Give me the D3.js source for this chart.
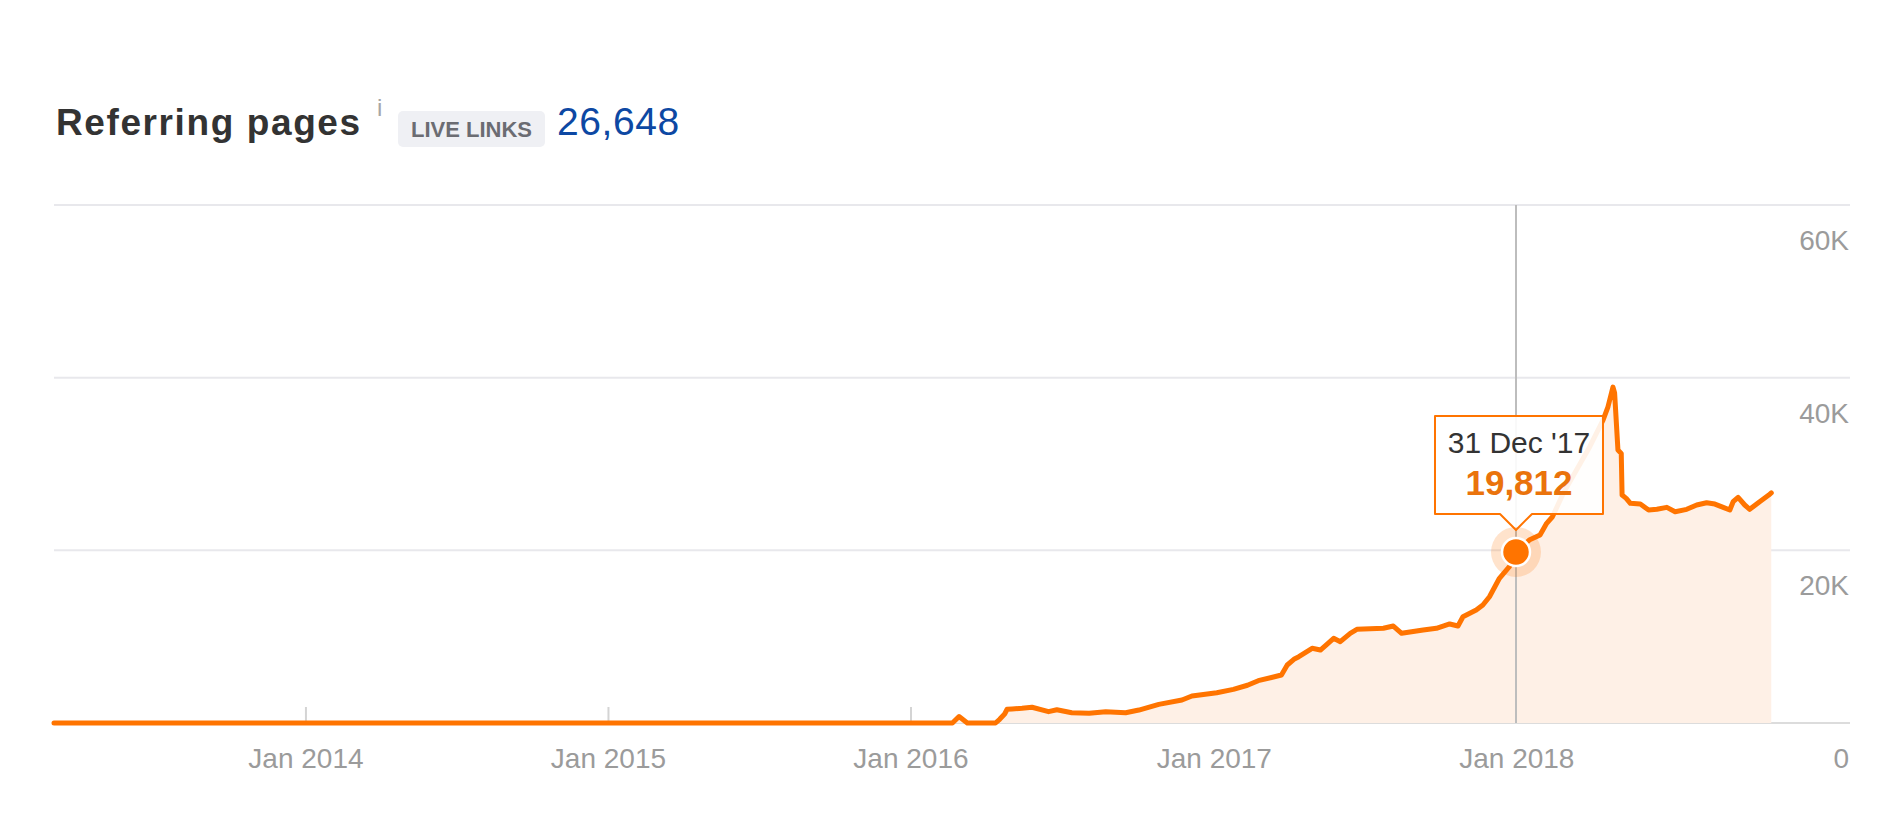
<!DOCTYPE html>
<html>
<head>
<meta charset="utf-8">
<script src="https://cdn.jsdelivr.net/npm/d3@7"></script>
<style>
  html, body { margin: 0; padding: 0; background: #fff; }
  svg { display: block; font-family: "Liberation Sans", Arial, Helvetica, sans-serif; }
</style>
</head>
<body>
<svg id="chart" width="1904" height="840"></svg>
<script>
// ---- Data ----
const dates = [
  "2013-03-03","2016-02-20","2016-02-28","2016-03-09","2016-04-12","2016-04-17","2016-04-23","2016-04-26",
  "2016-05-02","2016-05-14","2016-05-26","2016-06-15","2016-06-25","2016-07-13","2016-08-03","2016-08-23",
  "2016-09-16","2016-10-02","2016-10-26","2016-11-23","2016-12-05","2017-01-04","2017-01-24","2017-02-10",
  "2017-02-23","2017-03-23","2017-03-30","2017-04-07","2017-04-13","2017-04-29","2017-05-09","2017-05-25",
  "2017-06-02","2017-06-14","2017-06-22","2017-07-24","2017-08-05","2017-08-15","2017-09-10","2017-09-26",
  "2017-10-12","2017-10-22","2017-10-28","2017-11-13","2017-11-21","2017-11-29","2017-12-11","2017-12-23",
  "2017-12-31","2018-01-16","2018-01-29","2018-02-06","2018-02-13","2018-02-26","2018-03-14","2018-03-30",
  "2018-04-15","2018-04-21","2018-04-27","2018-04-29","2018-05-03","2018-05-07","2018-05-08","2018-05-13",
  "2018-05-18","2018-05-30","2018-06-09","2018-06-19","2018-07-01","2018-07-11","2018-07-25","2018-08-06",
  "2018-08-18","2018-08-28","2018-09-07","2018-09-15","2018-09-19","2018-09-25","2018-10-03","2018-10-09",
  "2018-10-21","2018-11-01","2018-11-04"
];
const values = [
  0,0,750,0,0,430,1040,1590,
  1620,1700,1820,1310,1540,1190,1120,1310,
  1190,1500,2160,2660,3130,3510,3900,4370,
  4900,5560,6720,7380,7680,8650,8450,9810,
  9420,10390,10850,10970,11230,10390,10770,10970,
  11470,11230,12310,13090,13670,14630,16760,18100,
  19812,21190,21770,23130,23890,26600,29300,32000,
  35090,36630,38910,38220,31620,31230,26400,26020,
  25440,25360,24670,24750,24980,24470,24750,25250,
  25510,25360,24980,24670,25630,26140,25250,24750,
  25630,26400,26648
];
const xDomain = ["2013-03-03", "2019-02-07"];
const yTicks = [0, 20000, 40000, 60000];
const yTickLabels = ["0", "20K", "40K", "60K"];
const xTicks = ["2014-01-01", "2015-01-01", "2016-01-01", "2017-01-01", "2018-01-01"];
const xTickLabels = ["Jan 2014", "Jan 2015", "Jan 2016", "Jan 2017", "Jan 2018"];
const titleText = "Referring pages";
const badgeText = "LIVE LINKS";
const totalText = "26,648";
const hoverDate = "2017-12-31";
const hoverDateLabel = "31 Dec '17";

// ---- Setup ----
const parse = d3.utcParse("%Y-%m-%d");
const data = dates.map((d, i) => ({ date: parse(d), value: values[i] }));

const svg = d3.select("#chart");
const x = d3.scaleUtc().domain(xDomain.map(parse)).range([54, 1850]);
const y = d3.scaleLinear().domain([0, 60000]).range([723, 205]);

const ORANGE = "#ff7400";

// Header
svg.append("text").attr("x", 56).attr("y", 135)
  .attr("font-size", 37).attr("font-weight", "bold").attr("fill", "#333")
  .attr("letter-spacing", 1.6).text(titleText);
svg.append("text").attr("x", 377).attr("y", 116)
  .attr("font-size", 24).attr("fill", "#a6a6a6").text("i");
svg.append("rect").attr("x", 398).attr("y", 111).attr("width", 147).attr("height", 36)
  .attr("rx", 5).attr("fill", "#eff0f4");
svg.append("text").attr("x", 471.5).attr("y", 137).attr("text-anchor", "middle")
  .attr("font-size", 22).attr("font-weight", "bold").attr("fill", "#6b6c72").text(badgeText);
svg.append("text").attr("x", 557).attr("y", 134.5)
  .attr("font-size", 39).attr("fill", "#0d48a3").attr("letter-spacing", 0.6).text(totalText);

// Gridlines
const grid = svg.append("g");
grid.selectAll("line").data(yTicks).join("line")
  .attr("x1", 54).attr("x2", 1850)
  .attr("y1", d => y(d)).attr("y2", d => y(d))
  .attr("stroke", (d) => d === 0 ? "#dcdcdc" : "#e8e8ec")
  .attr("stroke-width", 2);

// Y labels
svg.append("g").selectAll("text").data(yTicks).join("text")
  .attr("x", 1849).attr("y", d => y(d) + 45)
  .attr("text-anchor", "end").attr("font-size", 28).attr("fill", "#9b9b9b")
  .text((d, i) => yTickLabels[i]);

// X ticks
const xt = svg.append("g");
xt.selectAll("line").data(xTicks).join("line")
  .attr("x1", d => x(parse(d))).attr("x2", d => x(parse(d)))
  .attr("y1", y(0) - 16).attr("y2", y(0))
  .attr("stroke", "#d4d4d4").attr("stroke-width", 2);
xt.selectAll("text").data(xTicks).join("text")
  .attr("x", d => x(parse(d))).attr("y", 768)
  .attr("text-anchor", "middle").attr("font-size", 28).attr("fill", "#9b9b9b")
  .text((d, i) => xTickLabels[i]);

// Area + line
const area = d3.area().x(d => x(d.date)).y0(y(0)).y1(d => y(d.value));
const line = d3.line().x(d => x(d.date)).y(d => y(d.value));
svg.append("path").datum(data).attr("d", area).attr("fill", "#fef0e6");
svg.append("path").datum(data).attr("d", line)
  .attr("fill", "none").attr("stroke", ORANGE).attr("stroke-width", 5)
  .attr("stroke-linejoin", "round").attr("stroke-linecap", "round");

// Hover crosshair
const hp = data.find(d => +d.date === +parse(hoverDate));
const hx = x(hp.date), hy = y(hp.value);
svg.append("line").attr("x1", hx).attr("x2", hx).attr("y1", y(60000)).attr("y2", y(0))
  .attr("stroke", "#bdbdbd").attr("stroke-width", 2);

// Tooltip
const bw = 168, bh = 98, gap = 24, tri = 16;
const bx = hx - 81, by = hy - gap - bh - 14;
const tipPath = [
  `M${bx},${by}`, `H${bx + bw}`, `V${by + bh}`,
  `H${hx + tri}`, `L${hx},${by + bh + tri}`, `L${hx - tri},${by + bh}`,
  `H${bx}`, "Z"
].join(" ");
svg.append("path").attr("d", tipPath)
  .attr("fill", "rgba(255,255,255,0.9)").attr("stroke", ORANGE).attr("stroke-width", 2)
  .attr("stroke-linejoin", "round");
svg.append("text").attr("x", bx + bw / 2).attr("y", by + 37)
  .attr("text-anchor", "middle").attr("font-size", 30).attr("fill", "#333").text(hoverDateLabel);
svg.append("text").attr("x", bx + bw / 2).attr("y", by + 79)
  .attr("text-anchor", "middle").attr("font-size", 35).attr("font-weight", "bold")
  .attr("fill", "#ea730c").text(d3.format(",")(hp.value));

// Dot
svg.append("circle").attr("cx", hx).attr("cy", hy).attr("r", 25)
  .attr("fill", ORANGE).attr("fill-opacity", 0.2);
svg.append("circle").attr("cx", hx).attr("cy", hy).attr("r", 14)
  .attr("fill", ORANGE).attr("stroke", "#fff").attr("stroke-width", 2.5);
</script>
</body>
</html>
